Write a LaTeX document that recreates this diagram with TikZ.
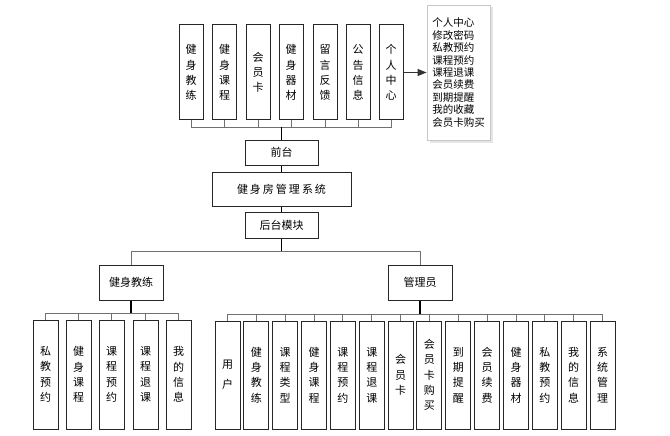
\documentclass[tikz,border=0pt]{standalone}
\usepackage{fontspec}
\setmainfont{Noto Sans CJK SC}
\usetikzlibrary{arrows.meta}
\definecolor{lnc}{HTML}{707070}
\tikzset{
  box/.style={draw=black!85,line width=1pt,fill=white,inner sep=0pt,align=center,
    font=\fontsize{11}{15.3}\selectfont},
  vbox/.style={box,minimum width=24pt},
  hbox/.style={box},
  conn/.style={draw=lnc,line width=0.9pt},
  trunk/.style={draw=black,line width=1.1pt},
  infobox/.style={draw=black!22,line width=0.8pt,fill=white,inner sep=0pt,align=left,
    minimum width=63pt,minimum height=135pt,font=\fontsize{10.5}{12.4}\selectfont},
  arr/.style={draw=black!80,line width=1.1pt,-{Triangle[length=9pt,width=7pt]}}
}
\begin{document}
\begin{tikzpicture}[x=1pt,y=-1pt]
\useasboundingbox (0,0) rectangle (670,436);
% top row
\node[vbox,minimum height=95pt] (t1) at (191,72.5) {健\\身\\教\\练};
\node[vbox,minimum height=95pt] (t2) at (224.5,72.5) {健\\身\\课\\程};
\node[vbox,minimum height=95pt] (t3) at (258,72.5) {会\\员\\卡};
\node[vbox,minimum height=95pt] (t4) at (291,72.5) {健\\身\\器\\材};
\node[vbox,minimum height=95pt] (t5) at (325,72.5) {留\\言\\反\\馈};
\node[vbox,minimum height=95pt] (t6) at (358,72.5) {公\\告\\信\\息};
\node[vbox,minimum height=95pt] (t7) at (391,72.5) {个\\人\\中\\心};
% info box
\fill[black!10] (429.5,7.5) rectangle (492.5,142.5);
\node[infobox] (info) at (458.5,72.5) {个人中心\\修改密码\\私教预约\\课程预约\\课程退课\\会员续费\\到期提醒\\我的收藏\\会员卡购买};
\draw[arr] (t7.east) -- (info.west);
% center column
\node[hbox,minimum width=73pt,minimum height=25pt] (qt) at (281.5,152.5) {前台};
\node[hbox,minimum width=139pt,minimum height=34pt] (sys) at (281.5,189) {健\hspace{2pt}身\hspace{2pt}房\hspace{2pt}管\hspace{2pt}理\hspace{2pt}系\hspace{2pt}统};
\node[hbox,minimum width=73pt,minimum height=26pt] (ht) at (281.5,225) {后台模块};
\node[hbox,minimum width=64pt,minimum height=35pt] (coach) at (131,282.5) {健身教练};
\node[hbox,minimum width=64pt,minimum height=35pt] (admin) at (420,282.5) {管理员};
% bottom left
\node[vbox,minimum width=25pt,minimum height=109pt] (l1) at (45.5,374.5) {私\\教\\预\\约};
\node[vbox,minimum width=25pt,minimum height=109pt] (l2) at (78.5,374.5) {健\\身\\课\\程};
\node[vbox,minimum width=25pt,minimum height=109pt] (l3) at (111.5,374.5) {课\\程\\预\\约};
\node[vbox,minimum width=25pt,minimum height=109pt] (l4) at (145.5,374.5) {课\\程\\退\\课};
\node[vbox,minimum width=25pt,minimum height=109pt] (l5) at (178.5,374.5) {我\\的\\信\\息};
% bottom right
\foreach \i/\t in {1/{用\\[4.7pt]户},2/{健\\身\\教\\练},3/{课\\程\\类\\型},4/{健\\身\\课\\程},5/{课\\程\\预\\约},6/{课\\程\\退\\课},7/{会\\员\\卡},8/{会\\员\\卡\\购\\买},9/{到\\期\\提\\醒},10/{会\\员\\续\\费},11/{健\\身\\器\\材},12/{私\\教\\预\\约},13/{我\\的\\信\\息},14/{系\\统\\管\\理}}{
  \node[vbox,minimum width=25pt,minimum height=108pt] (r\i) at ({227.5+(\i-1)*28.85},375) {\t};
}
% connectors top
\coordinate (busT) at (281.5,127);
\foreach \i in {1,...,7}{\draw[conn] (t\i.south) |- (busT);}
\draw[trunk] (busT) -- (qt.north);
\draw[trunk] (qt.south) -- (sys.north);
\draw[trunk] (sys.south) -- (ht.north);
% connectors middle
\coordinate (busM) at (281.5,251);
\draw[trunk] (ht.south) -- (busM);
\draw[conn] (coach.north) |- (busM);
\draw[conn] (admin.north) |- (busM);
% connectors bottom left
\coordinate (busL) at (131,313.5);
\draw[trunk] (coach.south) -- (busL);
\foreach \i in {1,...,5}{\draw[conn] (l\i.north) |- (busL);}
% connectors bottom right
\coordinate (busR) at (420,314);
\draw[trunk] (admin.south) -- (busR);
\foreach \i in {1,...,14}{\draw[conn] (r\i.north) |- (busR);}
\end{tikzpicture}
\end{document}
